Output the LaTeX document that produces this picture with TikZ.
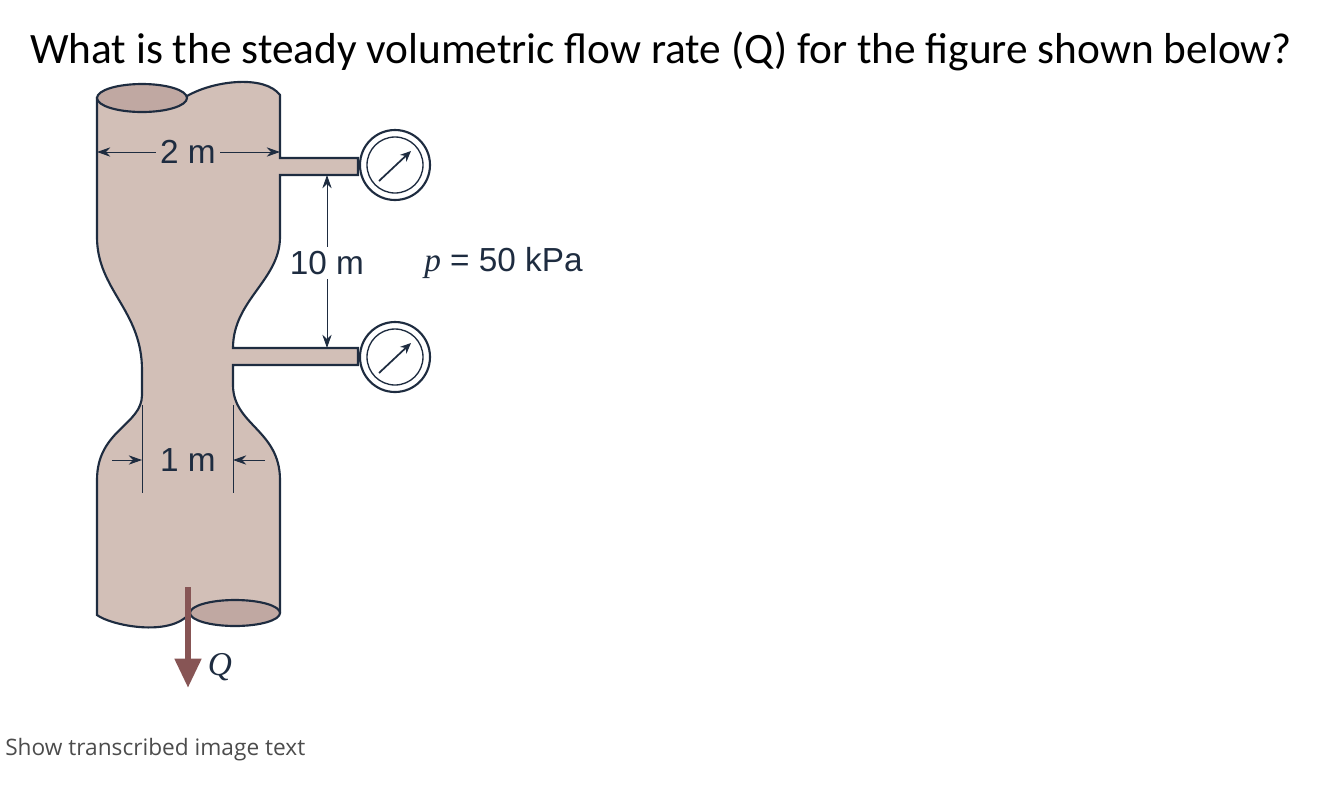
\documentclass[tikz,border=0pt]{standalone}
\usepackage{fontspec}
\setmainfont{Liberation Sans}
\newfontfamily\titlefont{Carlito}
\newfontfamily\capfont{Open Sans}
\newfontfamily\seriffont{Liberation Serif}
\usetikzlibrary{arrows.meta}
\definecolor{pipefill}{RGB}{210,191,183}
\definecolor{holefill}{RGB}{192,168,162}
\definecolor{ink}{RGB}{30,44,64}
\definecolor{qcol}{RGB}{135,85,85}
\tikzset{outline/.style={draw=ink,line width=1.6pt},
 dim/.style={draw=ink,line width=0.7pt},
 dimarr/.style={dim,-{Stealth[length=10pt,width=7pt]}},
 lab/.style={font=\fontsize{25}{30}\selectfont,text=ink,inner sep=3pt}}
\begin{document}
\begin{tikzpicture}[x=0.75pt,y=-0.75pt]
\useasboundingbox (0,0) rectangle (1322,790);
\node[anchor=base west,inner sep=0,font=\titlefont\fontsize{32.5}{36}\selectfont] (title) at (30,63) {What is the steady volumetric flow rate (Q) for the figure shown below?};
% pipe body
\path[fill=pipefill,outline] (97,98) -- (97,237) .. controls (97,290) and (142,310) .. (142,370)
 -- (142,395) .. controls (142,425) and (97,430) .. (97,480) -- (97,615)
 .. controls (110,625) and (170,638) .. (190,613)
 -- (280,612) -- (280,480) .. controls (280,430) and (233,425) .. (233,385) -- (233,365) -- (358,365) -- (358,348) -- (233,348)
 .. controls (233,300) and (280,280) .. (280,237) -- (280,175) -- (358,175) -- (358,158) -- (280,158) -- (280,95)
 .. controls (265,75) and (215,80) .. (187,96) -- cycle;
\draw[outline,fill=holefill] (142,98) ellipse [x radius=45,y radius=14];
\draw[outline,fill=holefill] (235,613) ellipse [x radius=45,y radius=13];
% gauges
\foreach \yy in {165,357}{
 \draw[outline,fill=white] (395,\yy) circle (35);
 \draw[draw=ink,line width=1pt] (395,\yy) circle (28);
 \draw[draw=ink,line width=1.3pt,-{Stealth[length=8pt,width=7pt]}] (379,\yy+16) -- (411,\yy-14);
}
% 2 m
\node[lab] (d2) at (188,152) {2 m};
\draw[dimarr] (d2.west) -- (97,152);
\draw[dimarr] (d2.east) -- (280,152);
% 10 m
\node[lab,fill=white] (d10) at (327,263) {10 m};
\draw[dimarr] (d10.north) -- (327,175);
\draw[dimarr] (d10.south) -- (327,348);
\node[anchor=west,inner sep=0,font=\fontsize{25}{30}\selectfont,text=ink] (pl) at (424,263) {{\seriffont\itshape p} = 50 kPa};
% 1 m
\draw[dim] (142,405) -- (142,493);
\draw[dim] (233,405) -- (233,493);
\node[lab] (d1) at (188,460) {1 m};
\draw[dimarr] (112,460) -- (142,460);
\draw[dimarr] (265,460) -- (233,460);
% Q
\draw[draw=qcol,line width=5pt,-{Triangle[length=22pt,width=19pt]}] (188,587) -- (188,688);
\node[inner sep=0,font=\seriffont\itshape\fontsize{25}{30}\selectfont,text=ink] (q) at (220,667) {Q};
\node[anchor=base west,inner sep=0,font=\capfont\fontsize{17}{20}\selectfont,text=black!70] (cap) at (5,755) {Show transcribed image text};
\end{tikzpicture}
\end{document}
